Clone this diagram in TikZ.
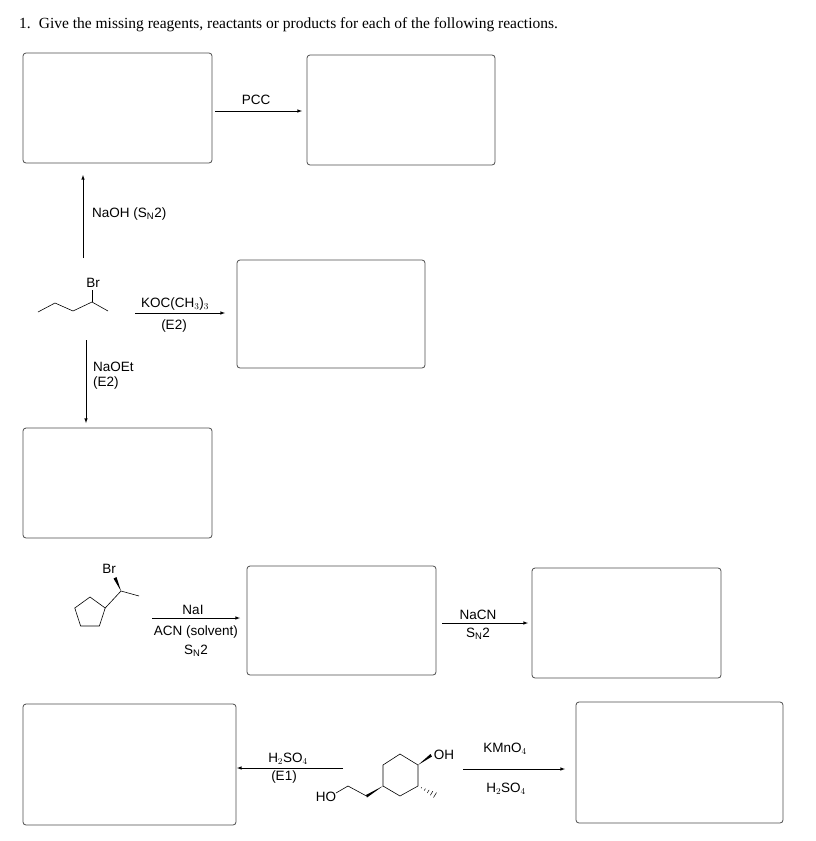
\documentclass[tikz,border=0pt]{standalone}
\usepackage{fontspec}
\setmainfont{Liberation Sans}
\newfontfamily\ser{Liberation Serif}
\usetikzlibrary{calc}
\begin{document}
\begin{tikzpicture}[x=1pt,y=-1pt,
 box/.style={draw=black!70,rounded corners=3pt,line width=0.8pt},
 arr/.style={-latex,line width=0.6pt},
 bd/.style={line width=0.6pt},
 lab/.style={font=\fontsize{13.5}{15}\selectfont,inner sep=0pt}]
\useasboundingbox (0,0) rectangle (816,841);
\node[anchor=west,font=\ser\fontsize{15.5}{18}\selectfont,inner sep=0pt] (t) at (19,25) {1.\hspace{8pt}Give the missing reagents, reactants or products for each of the following reactions.};
% boxes
\draw[box] (23,53) rectangle (212,163);
\draw[box] (307,55) rectangle (495,165);
\draw[box] (237,260) rectangle (425,368);
\draw[box] (23,428) rectangle (212,538);
\draw[box] (247,566) rectangle (436,675);
\draw[box] (532,568) rectangle (721,678);
\draw[box] (23,704) rectangle (236,825);
\draw[box] (576,702) rectangle (783,823);
% arrows
\coordinate (p1) at (215,111); \coordinate (p2) at (302,111);
\draw[arr] (p1) -- (p2); \node[lab] (pcc) at (256,100) {PCC};
\coordinate (u1) at (83,258); \coordinate (u2) at (83,175);
\draw[arr] (u1) -- (u2); \node[lab,anchor=west] (naoh) at (92,214) {NaOH (S$_\mathrm{N}$2)};
\coordinate (k1) at (135,313); \coordinate (k2) at (225,313);
\draw[arr] (k1) -- (k2);
\node[lab] (koc) at (175,304) {KOC(CH$_3$)$_3$}; \node[lab] (e2a) at (174,326) {(E2)};
\coordinate (d1) at (86,340); \coordinate (d2) at (86,423);
\draw[arr] (d1) -- (d2);
\node[lab,anchor=west] (naoet) at (93,367) {NaOEt}; \node[lab,anchor=west] (e2b) at (93,383) {(E2)};
\coordinate (n1) at (152,618); \coordinate (n2) at (240,618);
\draw[arr] (n1) -- (n2);
\node[lab] (nai) at (193,610) {NaI}; \node[lab] (acn) at (196,632) {ACN (solvent)}; \node[lab] (sn2a) at (196,651) {S$_\mathrm{N}$2};
\coordinate (c1) at (442,623); \coordinate (c2) at (528,623);
\draw[arr] (c1) -- (c2);
\node[lab] (nacn) at (478,615) {NaCN}; \node[lab] (sn2b) at (478,634) {S$_\mathrm{N}$2};
\coordinate (h1) at (343,768); \coordinate (h2) at (237,768);
\draw[arr] (h1) -- (h2);
\node[lab] (hs) at (288,759) {H$_2$SO$_4$}; \node[lab] (e1) at (284,777) {(E1)};
\coordinate (m1) at (463,769); \coordinate (m2) at (565,769);
\draw[arr] (m1) -- (m2);
\node[lab] (km) at (505,749) {KMnO$_4$}; \node[lab] (hs2) at (506,789) {H$_2$SO$_4$};
% 2-bromopentane
\draw[bd] (38,312) -- (55,303) -- (73,311) -- (92,302) -- (108,311);
\draw[bd] (92,302) -- (92,290);
\node[lab] (br1) at (93,283) {Br};
% bromoethylcyclopentane
\draw[bd] (105.2,608) -- (90,597) -- (74.8,608) -- (80.6,626) -- (99.4,626) -- cycle;
\draw[bd] (105.2,608) -- (121,591) -- (139,596);
\fill (121,591) -- (116.5,577) -- (113.5,578.5) -- cycle;
\node[lab] (br2) at (109,569) {Br};
% cyclohexane diol
\draw[bd] (400,754) -- (418,765) -- (418,786) -- (400,796) -- (383,786) -- (383,765) -- cycle;
\fill (418,765) -- (432,756.5) -- (430.5,754) -- cycle;
\node[lab] (oh) at (444,755) {OH};
\foreach \t in {0.2,0.4,0.6,0.8,1.0}
  \draw[line width=0.5pt] ($(418,786)!\t!(435,795)+(-1.5*\t,2.5*\t)$) -- ($(418,786)!\t!(435,795)+(1.5*\t,-2.5*\t)$);
\fill (383,786) -- (367,797.5) -- (366,795) -- cycle;
\draw[bd] (366.5,796) -- (348,786) -- (336,793);
\node[lab] (ho) at (326,797) {HO};
\end{tikzpicture}
\end{document}
